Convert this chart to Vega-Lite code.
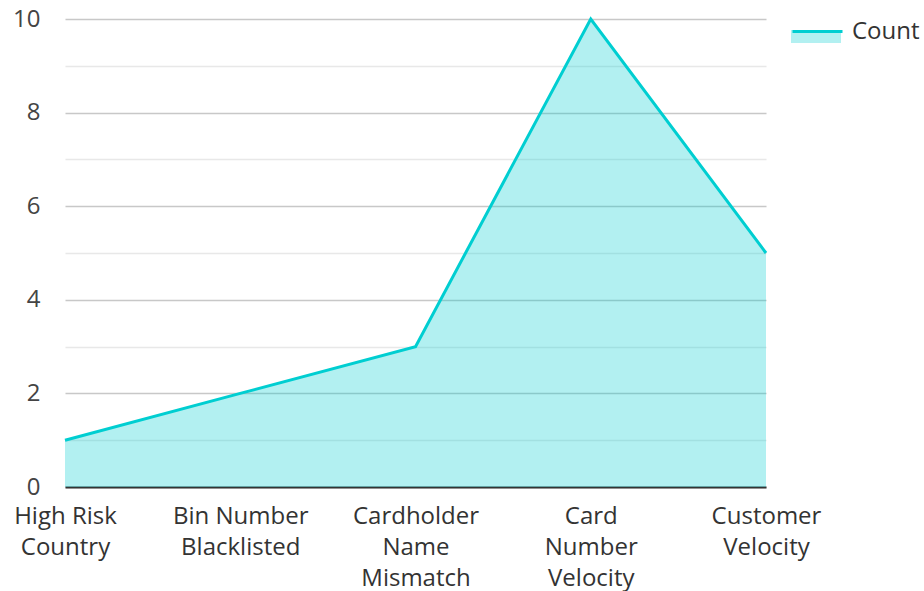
{
  "$schema": "https://vega.github.io/schema/vega-lite/v6.json",
  "autosize": "none",
  "padding": {"left": 65, "top": 19, "right": 158, "bottom": 104},
  "width": 701,
  "height": 468,
  "background": "white",
  "config": {
    "font": "Open Sans",
    "view": {"stroke": null}
  },
  "data": {
    "values": [
      {"reason": "High Risk Country", "series": "Count", "count": 1},
      {"reason": "Bin Number Blacklisted", "series": "Count", "count": 2},
      {"reason": "Cardholder Name Mismatch", "series": "Count", "count": 3},
      {"reason": "Card Number Velocity", "series": "Count", "count": 10},
      {"reason": "Customer Velocity", "series": "Count", "count": 5}
    ]
  },
  "encoding": {
    "x": {
      "field": "reason",
      "type": "ordinal",
      "sort": null,
      "scale": {"type": "point", "padding": 0},
      "axis": {
        "title": null,
        "ticks": false,
        "domainColor": "#333333",
        "domainWidth": 2,
        "labelAngle": 0,
        "labelFontSize": 24,
        "labelColor": "#333333",
        "labelPadding": 17,
        "labelLineHeight": 31,
        "labelOverlap": false,
        "labelBound": false,
        "labelFlush": false,
        "labelExpr": "datum.value == 'High Risk Country' ? ['High Risk','Country'] : datum.value == 'Bin Number Blacklisted' ? ['Bin Number','Blacklisted'] : datum.value == 'Cardholder Name Mismatch' ? ['Cardholder','Name','Mismatch'] : datum.value == 'Card Number Velocity' ? ['Card','Number','Velocity'] : ['Customer','Velocity']"
      }
    },
    "y": {
      "field": "count",
      "type": "quantitative",
      "scale": {"domain": [0, 10], "nice": false},
      "axis": {
        "title": null,
        "domain": false,
        "ticks": false,
        "values": [0, 1, 2, 3, 4, 5, 6, 7, 8, 9, 10],
        "labelExpr": "datum.value % 2 == 1 ? '' : datum.label",
        "labelFontSize": 24,
        "labelColor": "#444444",
        "labelPadding": 25,
        "gridColor": {"condition": {"test": "datum.value % 2 == 1", "value": "#e8e8e8"}, "value": "#c8c8c8"},
        "gridWidth": 1.5
      }
    }
  },
  "layer": [
    {
      "mark": {"type": "area", "fillOpacity": 0.3},
      "encoding": {
        "fill": {
          "field": "series",
          "type": "nominal",
          "scale": {"range": ["#00ced1"]},
          "legend": {
            "title": null,
            "orient": "none",
            "legendX": 726,
            "legendY": -14,
            "symbolType": "M-1,0L1,0L1,0.52L-1,0.52Z",
            "symbolSize": 2500,
            "symbolOpacity": 0.3,
            "symbolStrokeWidth": 0,
            "labelFontSize": 24,
            "labelColor": "#333333",
            "labelOffset": 8,
            "labelExpr": "''",
            "padding": 0
          }
        }
      }
    },
    {
      "mark": {"type": "line", "strokeWidth": 3},
      "encoding": {
        "stroke": {
          "field": "series",
          "type": "nominal",
          "scale": {"range": ["#00ced1"]},
          "legend": {
            "title": null,
            "orient": "none",
            "legendX": 726,
            "legendY": -14,
            "symbolType": "stroke",
            "symbolSize": 2500,
            "symbolStrokeWidth": 3,
            "labelFontSize": 24,
            "labelColor": "#333333",
            "labelOffset": 8,
            "padding": 0
          }
        }
      }
    }
  ]
}
